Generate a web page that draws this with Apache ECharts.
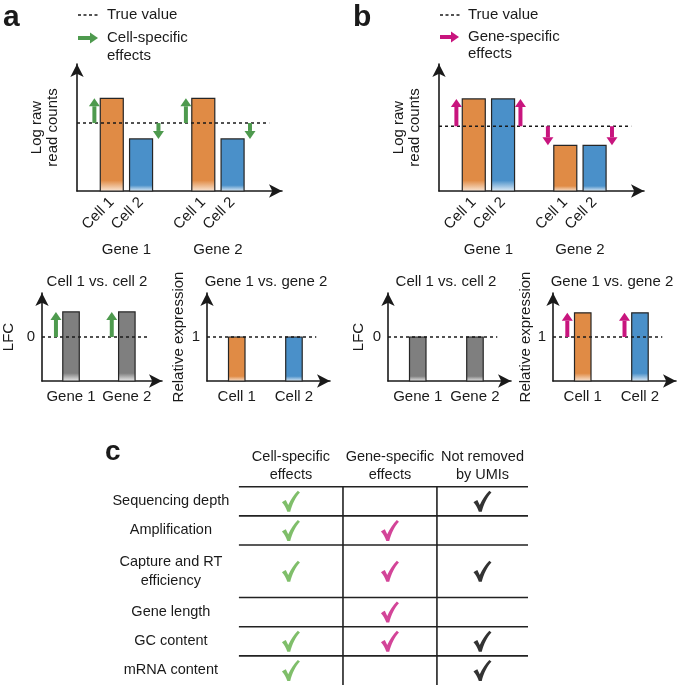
<!DOCTYPE html>
<html><head><meta charset="utf-8">
<script src="https://cdn.jsdelivr.net/npm/echarts@6/dist/echarts.min.js"></script>
<style>html,body{margin:0;padding:0;background:#fff}#c{width:680px;height:685px}</style>
</head><body><div id="c"></div>
<script>
// ===== DATA =====
const genes = ['Gene 1', 'Gene 2'];
const cells = ['Cell 1', 'Cell 2'];
const genePos = [1, 2];
// Panel a (cell-specific effects): log raw read counts, arbitrary units
const aCell1Counts = [7.3, 7.3];
const aCell2Counts = [4.1, 4.1];
const aTrueValue = 5.35;
// Panel b (gene-specific effects)
const bCell1Counts = [7.25, 3.6];
const bCell2Counts = [7.25, 3.6];
const bTrueValue = 5.1;
// Lower panels
const aLFC = [0.57, 0.57];          // cell 1 vs cell 2, per gene
const aRelExpr = [1, 1];            // gene 1 vs gene 2, per cell
const bLFC = [0, 0];
const bRelExpr = [1.55, 1.55];
const lfcTick = 0;
const relTick = 1;
// Panel c table
const tableCols = ['Cell-specific\neffects', 'Gene-specific\neffects', 'Not removed\nby UMIs'];
const tableRows = ['Sequencing depth', 'Amplification', 'Capture and RT\nefficiency', 'Gene length', 'GC content', 'mRNA content'];
const cellSpecific = [1, 1, 1, 0, 1, 1];
const geneSpecific = [0, 1, 1, 1, 1, 0];
const notRemovedByUMIs = [1, 0, 1, 0, 1, 1];

// ===== STYLE / LAYOUT =====
const FONT = '"Liberation Sans", Arial, sans-serif';
const BLACK = '#1a1a1a';
const ORANGE = '#e08b45', BLUE = '#4a90c9', GRAY = '#7f7f7f';
const GREEN = '#4e9a4e', MAGENTA = '#c8157e', CHECKGREEN = '#5fae45';
const fades = { [ORANGE]: '#fbeadb', [BLUE]: '#e8f1f9', [GRAY]: '#f0f0f0' };
const mainX = { min: 0.46, max: 2.70 };
const smallX = { min: 0.48, max: 2.63 };
const cellOffset = 0.16, arrowOffset = 0.35, smallArrowOffset = 0.27;
const mainDashEnd = 2.56, smallDashEnd = 2.39;
const rowHeights = [1, 1, 1.8, 1, 1, 1];
const colEdges = [0, 1.08, 2.055, 3];
const CHECK = 'path://M0,11C1.3,10 2.8,9.2 4.2,8.8L6.8,13.6C9.5,8.5 13.2,3.6 17.2,0L19.5,1.6C15,6 11,12.5 9,20L5.8,20C4.4,16.3 2.5,13.3 0,11Z';

const rowEdges = [0];
rowHeights.forEach(h => rowEdges.push(rowEdges[rowEdges.length - 1] + h));
const rowCenters = rowHeights.map((h, i) => rowEdges[i] + h / 2);
const colCenters = colEdges.slice(0, -1).map((e, i) => (e + colEdges[i + 1]) / 2);
const tableBottom = rowEdges[rowEdges.length - 1];

const axisLineStyle = { show: true, onZero: false, lineStyle: { color: BLACK, width: 1.6 }, symbol: ['none', 'arrow'], symbolSize: [10, 13] };
const txt = (size) => ({ fontSize: size, fontFamily: FONT, color: BLACK });

function barRender(color, barW, yMin) {
  return function (params, api) {
    const x = api.value(0), v = api.value(1);
    const top = api.coord([x, v]);
    const bot = api.coord([x, yMin]);
    return {
      type: 'rect',
      shape: { x: top[0] - barW / 2, y: top[1], width: barW, height: bot[1] - top[1] },
      style: {
        fill: { type: 'linear', x: 0, y: 0, x2: 0, y2: 1, colorStops: [
          { offset: 0, color: color }, { offset: 0.88, color: color }, { offset: 1, color: fades[color] }] },
        stroke: '#262626', lineWidth: 1.2
      }
    };
  };
}
function arrowRender(color) {
  return function (params, api) {
    const p0 = api.coord([api.value(0), api.value(1)]);
    const p1 = api.coord([api.value(0), api.value(2)]);
    const dir = p1[1] < p0[1] ? -1 : 1;
    const headL = 8, headW = 11;
    const baseY = p1[1] - dir * headL;
    return { type: 'group', children: [
      { type: 'line', shape: { x1: p0[0], y1: p0[1], x2: p0[0], y2: baseY }, style: { stroke: color, lineWidth: 4 } },
      { type: 'polygon', shape: { points: [[p1[0] - headW / 2, baseY], [p1[0] + headW / 2, baseY], [p1[0], p1[1]]] }, style: { fill: color } }
    ] };
  };
}
function dashSeries(xi, yi, x0, x1, v) {
  return { type: 'line', xAxisIndex: xi, yAxisIndex: yi, data: [[x0, v], [x1, v]], symbol: 'none', silent: true,
    lineStyle: { color: BLACK, width: 1.5, type: [3, 3] }, z: 5 };
}

// ===== AXES =====
const cellPositions = genePos.flatMap(g => [g - cellOffset, g + cellOffset]);
function cellAxis(gi) {
  return { type: 'value', gridIndex: gi, min: mainX.min, max: mainX.max, axisLine: axisLineStyle,
    axisTick: { show: false }, splitLine: { show: false },
    axisLabel: Object.assign({ customValues: cellPositions, rotate: 45, margin: 9,
      formatter: v => cells[(v - Math.round(v)) > 0 ? 1 : 0] }, txt(15)) };
}
function geneAxis(gi, min, max, margin) {
  return { type: 'value', gridIndex: gi, min: min, max: max, position: 'bottom',
    axisLine: min === mainX.min ? { show: false } : axisLineStyle,
    axisTick: { show: false }, splitLine: { show: false },
    axisLabel: Object.assign({ customValues: genePos, margin: margin,
      formatter: v => genes[genePos.indexOf(Math.round(v))] }, txt(15)) };
}
function cellAxisSmall(gi) {
  return { type: 'value', gridIndex: gi, min: smallX.min, max: smallX.max, axisLine: axisLineStyle,
    axisTick: { show: false }, splitLine: { show: false },
    axisLabel: Object.assign({ customValues: genePos, margin: 8,
      formatter: v => cells[genePos.indexOf(Math.round(v))] }, txt(15)) };
}
function yAxisDef(gi, min, max, name, gap, tick) {
  return { type: 'value', gridIndex: gi, min: min, max: max, axisLine: axisLineStyle,
    axisTick: { show: false }, splitLine: { show: false },
    axisLabel: tick === undefined ? { show: false } : Object.assign({ customValues: [tick], margin: 7 }, txt(15)),
    name: name, nameLocation: 'middle', nameRotate: 90, nameGap: gap,
    nameTextStyle: Object.assign({ lineHeight: 16 }, txt(15)) };
}

const xAxis = [
  cellAxis(0), geneAxis(0, mainX.min, mainX.max, 51),
  cellAxis(1), geneAxis(1, mainX.min, mainX.max, 51),
  geneAxis(2, smallX.min, smallX.max, 8),
  cellAxisSmall(3),
  geneAxis(4, smallX.min, smallX.max, 8),
  cellAxisSmall(5),
  { type: 'value', gridIndex: 6, min: -1.4, max: 3, show: false }
];
const yAxis = [
  yAxisDef(0, 0, 10, 'Log raw\nread counts', 16),
  yAxisDef(1, 0, 10, 'Log raw\nread counts', 16),
  yAxisDef(2, -1, 1, 'LFC', 25, lfcTick),
  yAxisDef(3, 0, 2, 'Relative expression', 20, relTick),
  yAxisDef(4, -1, 1, 'LFC', 21, lfcTick),
  yAxisDef(5, 0, 2, 'Relative expression', 18, relTick),
  { type: 'value', gridIndex: 6, min: -1.5, max: tableBottom, inverse: true, show: false }
];

// ===== SERIES =====
const series = [];
function mainPanel(xi, yi, c1, c2, trueV, arrowColor) {
  series.push({ type: 'custom', xAxisIndex: xi, yAxisIndex: yi, renderItem: barRender(ORANGE, 23, 0),
    data: genePos.map((g, i) => [g - cellOffset, c1[i]]), z: 3 });
  series.push({ type: 'custom', xAxisIndex: xi, yAxisIndex: yi, renderItem: barRender(BLUE, 23, 0),
    data: genePos.map((g, i) => [g + cellOffset, c2[i]]), z: 3 });
  series.push(dashSeries(xi, yi, mainX.min, mainDashEnd, trueV));
  const arrows = [];
  genePos.forEach((g, i) => {
    arrows.push([g - arrowOffset, trueV, c1[i]]);
    arrows.push([g + arrowOffset, trueV, c2[i]]);
  });
  series.push({ type: 'custom', xAxisIndex: xi, yAxisIndex: yi, renderItem: arrowRender(arrowColor), data: arrows, z: 6 });
}
mainPanel(0, 0, aCell1Counts, aCell2Counts, aTrueValue, GREEN);
mainPanel(2, 1, bCell1Counts, bCell2Counts, bTrueValue, MAGENTA);

function smallPanel(xi, yi, vals, colors, yMin, tick, arrowColor) {
  colors.forEach((col, i) => {
    series.push({ type: 'custom', xAxisIndex: xi, yAxisIndex: yi, renderItem: barRender(col, 16.5, yMin),
      data: [[genePos[i], vals[i]]], z: 3 });
  });
  series.push(dashSeries(xi, yi, smallX.min, smallDashEnd, tick));
  const arrows = genePos.map((g, i) => [g - smallArrowOffset, tick, vals[i]]).filter(a => a[2] !== a[1]);
  series.push({ type: 'custom', xAxisIndex: xi, yAxisIndex: yi, renderItem: arrowRender(arrowColor), data: arrows, z: 6 });
}
smallPanel(4, 2, aLFC, [GRAY, GRAY], -1, lfcTick, GREEN);
smallPanel(5, 3, aRelExpr, [ORANGE, BLUE], 0, relTick, GREEN);
smallPanel(6, 4, bLFC, [GRAY, GRAY], -1, lfcTick, MAGENTA);
smallPanel(7, 5, bRelExpr, [ORANGE, BLUE], 0, relTick, MAGENTA);

// table lines
const segs = rowEdges.slice(0, -1).map(e => [colEdges[0], e, colEdges[colEdges.length - 1], e])
  .concat(colEdges.slice(1, -1).map(c => [c, 0, c, tableBottom]));
series.push({ type: 'custom', xAxisIndex: 8, yAxisIndex: 6, data: segs, renderItem: (p, api) => {
  const a = api.coord([api.value(0), api.value(1)]), b = api.coord([api.value(2), api.value(3)]);
  return { type: 'line', shape: { x1: a[0], y1: a[1], x2: b[0], y2: b[1] }, style: { stroke: '#222', lineWidth: 1.6 } };
} });
function textSeries(data, textFn, size, color, lineHeight) {
  series.push({ type: 'custom', xAxisIndex: 8, yAxisIndex: 6, data: data, renderItem: (p, api) => {
    const c = api.coord([api.value(0), api.value(1)]);
    return { type: 'text', x: c[0], y: c[1], style: { text: textFn(p.dataIndex), fontSize: size, fontFamily: FONT,
      fill: color, align: 'center', verticalAlign: 'middle', lineHeight: lineHeight } };
  } });
}
textSeries(rowCenters.map(r => [-0.706, r]), i => tableRows[i], 14.5, BLACK, 19);
textSeries(colCenters.map(c => [c, -0.72]), i => tableCols[i], 14.5, BLACK, 18);
[[cellSpecific, CHECKGREEN], [geneSpecific, MAGENTA], [notRemovedByUMIs, '#000']].forEach(([arr, col], ci) => {
  const pts = rowCenters.map((r, i) => arr[i] ? [colCenters[ci], r] : null).filter(Boolean);
  series.push({ type: 'scatter', xAxisIndex: 8, yAxisIndex: 6, data: pts, symbol: CHECK, symbolSize: [18, 21],
    itemStyle: { color: col }, silent: true });
});

// ===== FREE TEXT / LEGENDS =====
const gtext = (x, y, text, size, extra) => ({ type: 'text', x: x, y: y, style: Object.assign({ text: text, fontSize: size,
  fontFamily: FONT, fill: BLACK, verticalAlign: 'middle' }, extra || {}) });
const legendArrow = (x0, x1, y, color) => ({ type: 'group', children: [
  { type: 'line', shape: { x1: x0, y1: y, x2: x1 - 8, y2: y }, style: { stroke: color, lineWidth: 4 } },
  { type: 'polygon', shape: { points: [[x1 - 8, y - 5.5], [x1 - 8, y + 5.5], [x1, y]] }, style: { fill: color } }] });
const graphic = [
  gtext(3, 18, 'a', 30, { fontWeight: 'bold' }),
  gtext(353, 18, 'b', 30, { fontWeight: 'bold' }),
  gtext(105, 452, 'c', 28, { fontWeight: 'bold' }),
  { type: 'line', shape: { x1: 78, y1: 15, x2: 100, y2: 15 }, style: { stroke: BLACK, lineWidth: 1.5, lineDash: [3, 2.5] } },
  gtext(107, 15, 'True value', 15),
  legendArrow(78, 98, 38, GREEN),
  gtext(107, 29, 'Cell-specific\neffects', 15, { verticalAlign: 'top', lineHeight: 18 }),
  { type: 'line', shape: { x1: 440, y1: 15, x2: 461, y2: 15 }, style: { stroke: BLACK, lineWidth: 1.5, lineDash: [3, 2.5] } },
  gtext(468, 15, 'True value', 15),
  legendArrow(440, 459, 37, MAGENTA),
  gtext(468, 28, 'Gene-specific\neffects', 15, { verticalAlign: 'top', lineHeight: 17 }),
  gtext(97, 282, 'Cell 1 vs. cell 2', 15, { align: 'center' }),
  gtext(266, 282, 'Gene 1 vs. gene 2', 15, { align: 'center' }),
  gtext(446, 282, 'Cell 1 vs. cell 2', 15, { align: 'center' }),
  gtext(612, 282, 'Gene 1 vs. gene 2', 15, { align: 'center' })
];

const chart = echarts.init(document.getElementById('c'), null, { renderer: 'canvas', width: 680, height: 685 });
chart.setOption({
  animation: false,
  backgroundColor: '#fff',
  grid: [
    { left: 77, top: 64, width: 205, height: 127 },
    { left: 439, top: 64, width: 205, height: 127 },
    { left: 39, top: 293, width: 123, height: 88 },
    { left: 207, top: 293, width: 123, height: 88 },
    { left: 388, top: 293, width: 123, height: 88 },
    { left: 553, top: 293, width: 123, height: 88 },
    { left: 104, top: 443, width: 424, height: 242 }
  ],
  xAxis: xAxis,
  yAxis: yAxis,
  series: series,
  graphic: graphic
});
</script></body></html>
